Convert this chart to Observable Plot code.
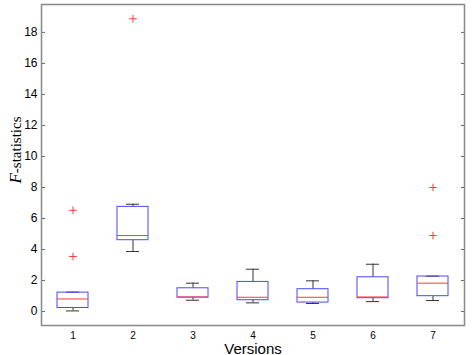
<!DOCTYPE html>
<html><head><meta charset="utf-8">
<script src="https://cdn.jsdelivr.net/npm/d3@7"></script>
<script src="https://cdn.jsdelivr.net/npm/@observablehq/plot@0.6"></script>
<style>body{margin:0;background:#fff}</style>
</head><body><div id="chart"></div>
<script>
const versions = [1, 2, 3, 4, 5, 6, 7];
const q1 = [0.23, 4.6, 0.9, 0.73, 0.58, 0.86, 0.99];
const median = [0.81, 4.9, 0.94, 0.92, 0.92, 0.94, 1.83];
const q3 = [1.22, 6.75, 1.5, 1.91, 1.44, 2.21, 2.26];
const lowWhisker = [0.04, 3.87, 0.73, 0.56, 0.52, 0.64, 0.71];
const highWhisker = [1.25, 6.92, 1.83, 2.73, 1.98, 3.05, 2.28];
const outlierVersion = [1, 1, 2, 7, 7];
const outlierValue = [6.53, 3.55, 18.88, 8.0, 4.9];
const yTicks = [0, 2, 4, 6, 8, 10, 12, 14, 16, 18];

const boxes = versions.map((v, i) => ({v, q1: q1[i], med: median[i], q3: q3[i], lo: lowWhisker[i], hi: highWhisker[i]}));
const outliers = outlierVersion.map((v, i) => ({v, y: outlierValue[i]}));

const blue = "#4848ff", red = "#ff3a3a", dark = "#333";
const chart = Plot.plot({
  width: 474, height: 355,
  marginLeft: 41, marginRight: 10, marginTop: 4, marginBottom: 30,
  style: {fontFamily: "Liberation Sans, Arial, sans-serif", background: "#fff"},
  x: {type: "band", domain: versions, paddingInner: 0.49, paddingOuter: 0.245},
  y: {domain: [-0.9, 19.8]},
  marks: [
    Plot.ruleX(boxes, {x: "v", y1: "q3", y2: "hi", stroke: dark}),
    Plot.ruleX(boxes, {x: "v", y1: "lo", y2: "q1", stroke: dark}),
    Plot.tickY(boxes, {x: "v", y: "hi", stroke: dark, insetLeft: 9, insetRight: 9}),
    Plot.tickY(boxes, {x: "v", y: "lo", stroke: dark, insetLeft: 9, insetRight: 9}),
    Plot.barY(boxes, {x: "v", y1: "q1", y2: "q3", fill: "none", stroke: blue}),
    Plot.tickY(boxes, {x: "v", y: "med", stroke: red}),
    Plot.dot(outliers, {x: "v", y: "y", symbol: "plus", stroke: red, r: 2.6, strokeWidth: 1}),
    Plot.axisY({anchor: "left", ticks: yTicks, tickSize: -4, tickPadding: 8, fontSize: 12, label: null, stroke: "#666"}),
    Plot.axisY({anchor: "right", ticks: yTicks, tickSize: -4, tickFormat: () => "", label: null, stroke: "#666"}),
    Plot.axisX({tickSize: 0, tickPadding: 6, fontSize: 10, label: "Versions", labelAnchor: "center", labelOffset: 28}),
    Plot.frame({stroke: "#888", strokeWidth: 1.5})
  ]
});
document.getElementById("chart").appendChild(chart);
// y axis label with italic F
const svg = d3.select(chart);
const t = svg.append("text")
  .attr("transform", "translate(21,150) rotate(-90)")
  .attr("text-anchor", "middle")
  .attr("font-family", "Liberation Serif, Times New Roman, serif")
  .attr("font-size", 15)
  .attr("fill", "#000");
t.append("tspan").attr("font-style", "italic").attr("font-size", 17).text("F");
t.append("tspan").text("-statistics");
svg.selectAll("[aria-label='x-axis label'] text, g[aria-label='x-axis label']").attr("font-size", 15);
</script></body></html>
